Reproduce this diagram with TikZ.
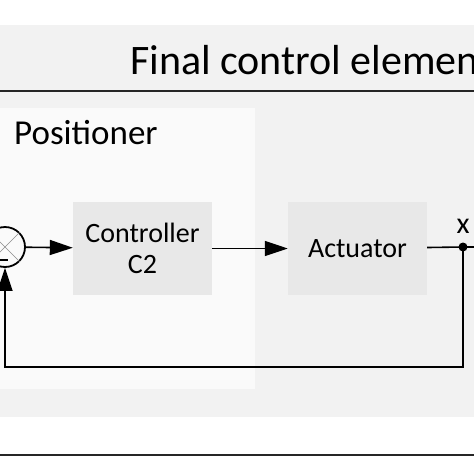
\documentclass[tikz,border=0pt]{standalone}
\usepackage{fontspec}
\setmainfont{Carlito}
\definecolor{panelGray}{HTML}{F2F2F2}
\definecolor{innerGray}{HTML}{FAFAFA}
\definecolor{blockGray}{HTML}{E8E8E8}
\usetikzlibrary{arrows.meta, positioning, calc}

\begin{document}
\begin{tikzpicture}[x=1pt, y=-1pt,
  block/.style={fill=blockGray, minimum width=139pt, minimum height=93pt,
    align=center, font=\fontsize{28}{31}\selectfont, inner sep=0pt},
  sumnode/.style={circle, draw, line width=1.8pt, minimum size=40pt, inner sep=0pt},
  wire/.style={line width=1.6pt},
  arr/.style={wire, -{Triangle[length=23pt, width=15pt]}}]
  \useasboundingbox (0,0) rectangle (474,474);
  \clip (0,0) rectangle (474,474);
  \fill[white] (0,0) rectangle (474,474);
  % panels
  \fill[panelGray] (0,25) rectangle (474,417);
  \fill[innerGray] (0,108) rectangle (255,389);
  \draw[line width=1.2pt, black!85] (0,91) -- (474,91);
  \draw[line width=1.2pt, black!85] (0,455) -- (474,455);
  \node[anchor=base west, inner sep=0pt, font=\fontsize{42}{46}\selectfont] (title) at (130,74) {Final control element};
  \node[anchor=base west, inner sep=0pt, font=\fontsize{35}{38}\selectfont] (pos) at (14,144) {Positioner};
  % loop
  \node[sumnode] (sum) at (5,247) {};
  \draw[black!45, line width=0.6pt] (sum.north west) -- (sum.south east)
    (sum.south west) -- (sum.north east);
  \draw[line width=1.6pt] (0,260) -- (8,260);
  \node[block] (ctrl) at (142.5,248.5) {Controller\\C2};
  \node[block] (act) at (357.5,248.5) {Actuator};
  \coordinate (out) at (463,247);
  \coordinate (xend) at (480,247);
  \coordinate (fbr) at (463,367);
  \coordinate (fbk) at (5,367);
  \fill (out) circle (4.5pt);
  \node[font=\fontsize{30}{32}\selectfont, inner sep=0pt, anchor=base] (xlab) at (463,233) {x};
  \draw[arr] (sum) -- (ctrl);
  \draw[arr] (ctrl) -- (act);
  \draw[wire] (act) -- (out) -- (xend);
  \draw[arr] (out) -- (fbr) -- (fbk) -- (sum.south);
\end{tikzpicture}
\end{document}
